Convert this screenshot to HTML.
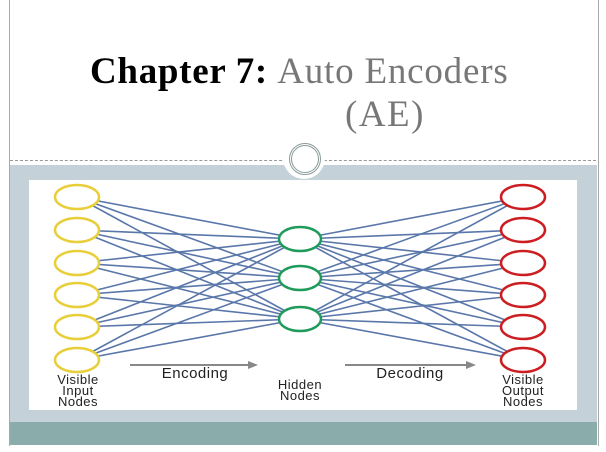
<!DOCTYPE html>
<html><head><style>
body{margin:0;width:606px;height:452px;background:#fff;position:relative;overflow:hidden;font-family:"Liberation Serif",serif}
.t{position:absolute;font-size:37px;white-space:nowrap}
</style></head><body>
<div style="position:absolute;left:9px;top:0;width:588px;height:446px;border-left:1px solid #aaa;border-right:1px solid #aaa"></div>
<div class="t" style="left:90px;top:50px"><b style="color:#000;letter-spacing:0.7px">Chapter 7:</b> <span style="color:#777;letter-spacing:0.8px">Auto Encoders</span></div>
<div class="t" style="left:345px;top:93px;color:#777;letter-spacing:1.5px">(AE)</div>
<div style="position:absolute;left:10px;top:160px;width:586px;border-top:1px dashed #999"></div>
<div style="position:absolute;left:10px;top:165px;width:587px;height:257px;background:#c5d1d8"></div>
<div style="position:absolute;left:10px;top:422px;width:587px;height:23px;background:#8aacab"></div>
<div style="position:absolute;left:283px;top:137px;width:42px;height:42px;border-radius:50%;background:#fff"></div>
<div style="position:absolute;left:289px;top:143px;width:26px;height:26px;border-radius:50%;border:3px double #8a9a9a"></div>
<svg style="position:absolute;left:0;top:0" width="606" height="452">
<rect x="29" y="180" width="548" height="230" fill="#fff"/>
<g stroke="#5a77aa" stroke-width="1.6" id="l"></g>
<g font-family="Liberation Sans,sans-serif" font-size="13" fill="#222" text-anchor="middle" letter-spacing="0.5">
<text x="78" y="384">Visible</text><text x="78" y="395">Input</text><text x="78" y="406">Nodes</text>
<text x="300" y="389">Hidden</text><text x="300" y="400">Nodes</text>
<text x="523" y="384">Visible</text><text x="523" y="395">Output</text><text x="523" y="406">Nodes</text>
<text x="195" y="378" font-size="15">Encoding</text><text x="410" y="378" font-size="15">Decoding</text>
</g>
<g stroke="#888" stroke-width="2"><line x1="130" y1="365" x2="250" y2="365"/><line x1="345" y1="365" x2="468" y2="365"/></g>
<g fill="#888"><polygon points="258,365 248,361 248,369"/><polygon points="476,365 466,361 466,369"/></g>
<g id="n" stroke-width="2.5" fill="#fff"></g>
</svg>
<script>
var ys=[197,230,263,295,327,360],hs=[239,278,319],l=document.getElementById('l'),n=document.getElementById('n'),s='',m='';
ys.forEach(function(y){hs.forEach(function(h){s+='<line x1="77" y1="'+y+'" x2="300" y2="'+h+'"/><line x1="523" y1="'+y+'" x2="300" y2="'+h+'"/>';});
m+='<ellipse cx="77" cy="'+y+'" rx="22" ry="12" stroke="#e8cf3a"/><ellipse cx="523" cy="'+y+'" rx="22" ry="12" stroke="#cc1e22"/>';});
hs.forEach(function(h){m+='<ellipse cx="300" cy="'+h+'" rx="21" ry="12" stroke="#1e9a5a"/>';});
l.innerHTML=s;n.innerHTML=m;
</script>
</body></html>
